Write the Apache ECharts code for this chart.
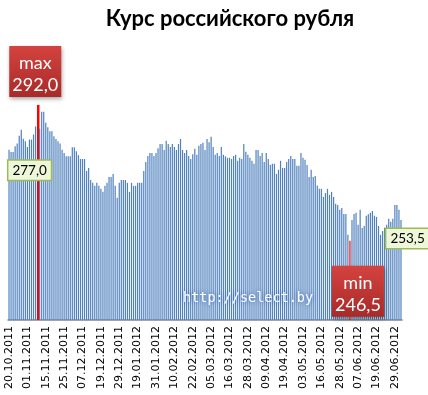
<!DOCTYPE html>
<html><head><meta charset="utf-8">
<script src="https://cdn.jsdelivr.net/npm/echarts@6/dist/echarts.min.js"></script>
<style>html,body{margin:0;padding:0;background:#fff}#c{width:428px;height:395px}</style>
</head><body><div id="c"></div>
<script>
const title = 'Курс российского рубля';
const tickLabels = ['20.10.2011','01.11.2011','15.11.2011','25.11.2011','07.12.2011','19.12.2011','29.12.2011',
  '19.01.2012','31.01.2012','10.02.2012','22.02.2012','05.03.2012','16.03.2012','28.03.2012','09.04.2012',
  '19.04.2012','03.05.2012','16.05.2012','28.05.2012','07.06.2012','19.06.2012','29.06.2012'];
const labelEvery = 9;
const values = [
 277.0,276.2,276.2,278.2,279.1,281.7,283.7,280.7,279.8,277.9,
 280.4,280.4,282.1,284.8,292.0,284.0,289.7,289.7,286.0,284.5,
 283.2,283.2,281.5,280.6,279.8,279.1,277.0,275.9,274.8,274.8,
 274.8,277.8,277.8,276.5,275.2,273.9,273.9,273.9,269.9,270.9,
 266.9,265.9,264.9,265.9,264.9,263.9,262.9,264.9,265.9,267.9,
 267.9,268.9,264.9,260.9,265.9,266.9,266.9,266.9,265.9,262.9,
 265.9,264.9,264.9,265.9,265.9,265.9,269.9,272.9,274.9,275.9,
 275.9,274.9,275.9,277.5,278.9,278.9,276.9,280.0,278.9,277.9,
 278.9,277.9,276.9,278.9,280.6,276.9,275.9,276.9,274.9,273.9,
 275.5,277.3,275.3,278.3,278.9,279.3,276.9,280.6,279.5,281.3,
 277.9,275.3,275.9,274.9,277.9,275.3,274.8,274.3,274.3,273.9,
 274.9,275.3,273.3,274.3,273.9,278.9,276.3,275.3,274.3,273.3,
 272.3,276.9,276.9,274.9,275.9,272.9,275.9,273.9,271.9,272.3,
 272.3,268.9,270.3,273.3,270.9,270.9,272.9,273.9,274.9,273.9,
 273.9,271.6,271.6,275.9,274.3,273.6,271.9,267.9,270.3,267.9,
 268.2,265.0,263.9,263.9,261.2,262.5,263.9,261.9,262.9,261.2,
 258.9,258.5,256.9,257.5,255.5,255.5,248.5,246.5,253.5,255.5,
 255.9,251.9,256.9,250.8,251.5,254.9,255.4,255.9,256.5,254.9,
 254.5,251.5,248.5,249.8,250.9,251.9,253.9,252.9,253.9,258.5,
 258.5,256.9,253.5];
const watermark = 'http://select.by';

const fmt = v => v.toFixed(1).replace('.', ',');
const maxV = Math.max(...values), minV = Math.min(...values);
const iMax = values.indexOf(maxV), iMin = values.indexOf(minV);
const iFirst = 0, iLast = values.length - 1;
const categories = values.map((v, i) => i % labelEvery === 0 ? (tickLabels[i / labelEvery] || '') : '');

const redGrad = {type:'linear',x:0,y:0,x2:0,y2:1,colorStops:[{offset:0,color:'#d4433f'},{offset:1,color:'#a82a28'}]};
const boxLabel = (word, v) => ({
  show: true,
  formatter: '{a|' + word + '}\n{b|' + fmt(v) + '}',
  backgroundColor: redGrad,
  width: 52, height: 45, padding: [6, 0, 0, 0], align: 'center',
  shadowColor: 'rgba(0,0,0,0.35)', shadowBlur: 4, shadowOffsetX: 1, shadowOffsetY: 2,
  rich: {
    a: {color:'#fff', fontFamily:'Lato', fontSize:18, lineHeight:22, align:'center', width:52},
    b: {color:'#fff', fontFamily:'Lato', fontSize:18, lineHeight:22, align:'center', width:52}
  }
});
const greenLabel = {
  show: true, color:'#000', fontFamily:'Lato', fontSize:13.5,
  backgroundColor:'#eff7d9', borderColor:'#9bbb59', borderWidth:1.5, padding:[3,4,2,4],
  formatter: p => fmt(p.value), align:'left', verticalAlign:'top'
};

const data = values.map((v, i) => {
  const d = {value: v};
  if (i === iMin) {
    d.itemStyle = {color:'#ff0000'};
    d.label = Object.assign(boxLabel('min', v), {position:'insideTop', distance:25, offset:[8,0]});
  } else if (i === iMax) {
    d.itemStyle = {color:'#ff0000'};
  } else if (i === iFirst) {
    d.label = Object.assign({}, greenLabel, {position:[0, 11]});
  } else if (i === iLast) {
    d.label = Object.assign({}, greenLabel, {position:[-14, 9]});
  }
  return d;
});
const maxData = values.map((v, i) => i === iMax ? {
  value: v,
  label: Object.assign(boxLabel('max', v), {position:'top', distance:8, offset:[-3,0]})
} : '-');

const chart = echarts.init(document.getElementById('c'), null, {renderer:'canvas'});
chart.setOption({
  animation: false,
  backgroundColor: '#fff',
  title: {text: title, left: 225, top: 3, textAlign:'center',
    textStyle:{fontFamily:'Lato', fontWeight:'bold', fontSize:22, color:'#000'}},
  grid: {left: 8, right: 26, top: 81, bottom: 75, containLabel: false},
  xAxis: {
    type: 'category', data: categories,
    axisLine: {lineStyle: {color:'#868686', width:1.5}},
    axisTick: {show:false},
    axisLabel: {interval: labelEvery - 1, rotate: 90, margin: 6,
      fontFamily:'DejaVu Sans', fontSize: 11, color:'#000'}
  },
  yAxis: {type:'value', min:220, max:300, show:false},
  series: [
    {type:'bar', data: maxData, barWidth: 2.5, barGap:'-100%', itemStyle:{color:'#ff0000'}, z:2},
    {type:'bar', data: data, barWidth: 1.2, barGap:'-100%', itemStyle:{color:'#4f81bd'}, z:3}
  ],
  graphic: [{
    type:'text', left: 183, top: 291, z: 10,
    style: {text: watermark, fill:'rgba(0,0,0,0)', font:'13.5px "DejaVu Sans Mono"',
      textShadowColor:'#1e4fa0', textShadowBlur: 10}
  },{
    type:'text', left: 183, top: 291, z: 11,
    style: {text: watermark, fill:'#fff', font:'13.5px "DejaVu Sans Mono"',
      textShadowColor:'#2a5cb0', textShadowBlur: 5}
  }]
});
</script></body></html>
